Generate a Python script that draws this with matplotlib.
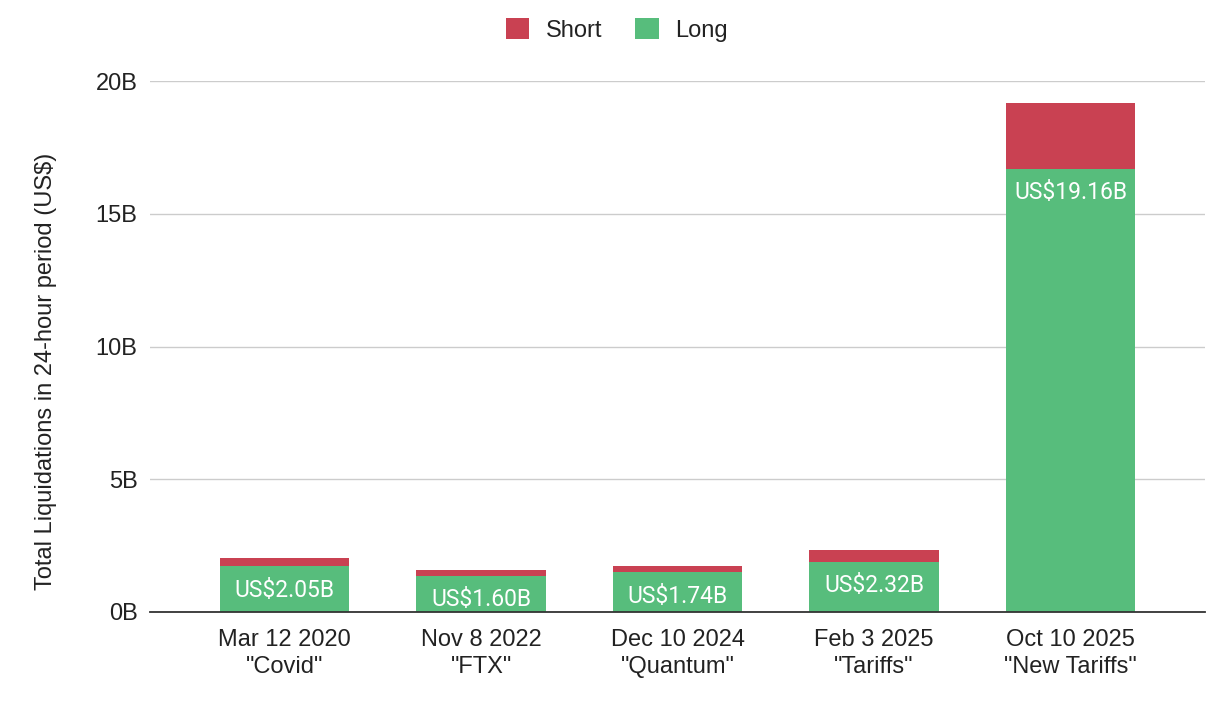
import matplotlib
matplotlib.use("Agg")
import matplotlib.pyplot as plt

categories = ['Mar 12 2020\n"Covid"', 'Nov 8 2022\n"FTX"', 'Dec 10 2024\n"Quantum"',
              'Feb 3 2025\n"Tariffs"', 'Oct 10 2025\n"New Tariffs"']
long_vals = [1.73, 1.37, 1.51, 1.90, 16.70]
short_vals = [0.32, 0.23, 0.23, 0.42, 2.46]
total_labels = ["US$2.05B", "US$1.60B", "US$1.74B", "US$2.32B", "US$19.16B"]
yticks = [0, 5, 10, 15, 20]
ytick_labels = ["0B", "5B", "10B", "15B", "20B"]

RED = "#C94152"
GREEN = "#57BD7C"
FS = 17

fig = plt.figure(figsize=(12.28, 7.2), dpi=100)
ax = fig.add_axes([150/1228, 1 - 612/720, (1205-150)/1228, (612-81)/720])

x = list(range(len(categories)))
w = 0.66
ax.bar(x, long_vals, width=w, color=GREEN, label="Long", zorder=3)
ax.bar(x, short_vals, bottom=long_vals, width=w, color=RED, label="Short", zorder=3)

for xi, lv, lab in zip(x, long_vals, total_labels):
    ax.annotate(lab, (xi, lv), xytext=(0, -17.5), textcoords="offset points",
                ha="center", va="center", color="white", fontsize=16.5,
                family="Roboto", zorder=4)

ax.set_xlim(-0.685, 4.685)
ax.set_ylim(0, 20)
ax.set_yticks(yticks)
ax.set_yticklabels(ytick_labels, fontsize=FS, family="Liberation Sans", color="#222222")
ax.set_xticks(x)
ax.set_xticklabels(categories, fontsize=FS, family="Liberation Sans", color="#222222",
                   linespacing=1.3)
ax.tick_params(axis="y", length=0, pad=9)
ax.tick_params(axis="x", length=0, pad=12)
ax.grid(axis="y", color="#CCCCCC", linewidth=1, zorder=0)
for s in ["top", "right", "left"]:
    ax.spines[s].set_visible(False)
ax.spines["bottom"].set_color("#333333")
ax.spines["bottom"].set_linewidth(1.3)
ax.spines["bottom"].set_zorder(5)

ax.set_ylabel("Total Liquidations in 24-hour period (US$)", fontsize=FS,
              family="Liberation Sans", color="#222222")
ax.yaxis.set_label_coords((57 - 150) / 1055, (612 - 371) / 531)

handles, labels = ax.get_legend_handles_labels()
fig.legend(handles[::-1], labels[::-1], loc="center", bbox_to_anchor=(617/1228, 1 - 30/720),
           ncol=2, frameon=False, prop={"family": "Liberation Sans", "size": FS},
           handlelength=1.0, handleheight=1.0, columnspacing=1.4, handletextpad=0.7,
           labelcolor="#222222")

fig.savefig("out.png", dpi=100)
